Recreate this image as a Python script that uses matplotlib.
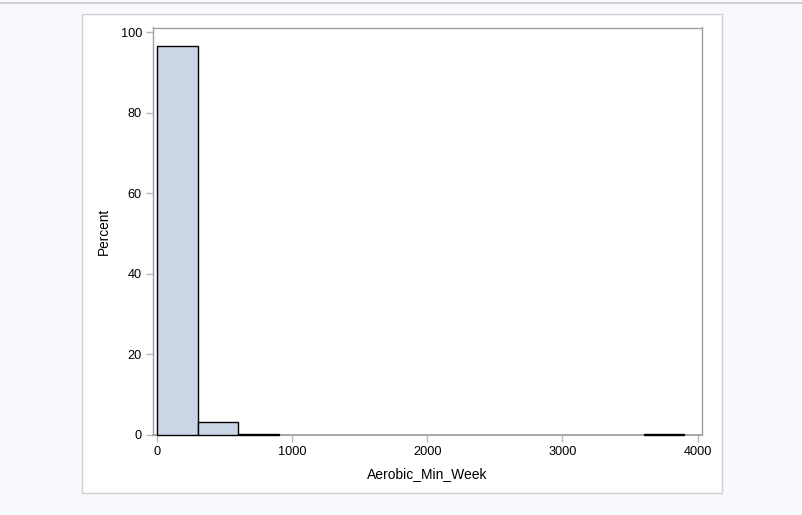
import matplotlib.pyplot as plt
from matplotlib.patches import Rectangle

# histogram of Aerobic_Min_Week, bins of width 300
bin_left = [0, 300, 600, 900, 1200, 1500, 1800, 2100, 2400, 2700, 3000, 3300, 3600]
bin_width = 300
percent = [96.5, 3.1, 0.2, 0.0, 0.0, 0.0, 0.0, 0.0, 0.0, 0.0, 0.0, 0.0, 0.1]
x_ticks = [0, 1000, 2000, 3000, 4000]
y_ticks = [0, 20, 40, 60, 80, 100]

plt.rcParams["font.family"] = ["Liberation Sans", "DejaVu Sans"]

W, H = 802, 515
fig = plt.figure(figsize=(W / 100, H / 100), dpi=100)
fig.patch.set_facecolor("#F8F9FE")

# top rule and white panel
fig.add_artist(plt.Line2D([0, 1], [1 - 2.5 / H, 1 - 2.5 / H], color="#C8C8C8", lw=1.2))
fig.add_artist(Rectangle((82 / W, 1 - 493 / H), (722 - 82) / W, (493 - 14) / H,
                         facecolor="white", edgecolor="#D0D0D0", lw=1, zorder=-5))

ax = fig.add_axes([153 / W, 1 - 434.6 / H, (702 - 153) / W, (434.6 - 27.5) / H])
ax.set_zorder(2)
# empty bins get no outline, as in the SAS output
edges = ["black" if p > 0 else "none" for p in percent]
ax.bar(bin_left, percent, width=bin_width, align="edge", color="#CAD5E5",
       edgecolor=edges, linewidth=1, zorder=4, clip_on=False)

ax.set_xlim(-31, 4033)
ax.set_ylim(0, 101.2)
ax.set_xticks(x_ticks)
ax.set_yticks(y_ticks)
for s in ax.spines.values():
    s.set_color("#A0A0A0")
    s.set_linewidth(1)
    s.set_zorder(3)
ax.spines["bottom"].set_linewidth(1.3)
ax.tick_params(direction="out", length=5, width=1, color="#B8B8B8",
               labelsize=9.2, labelcolor="black", pad=3)
ax.set_xlabel("Aerobic_Min_Week", fontsize=10, labelpad=7)
ax.set_ylabel("Percent", fontsize=9.8, labelpad=7)

fig.savefig("out.png", dpi=100, facecolor=fig.get_facecolor())
